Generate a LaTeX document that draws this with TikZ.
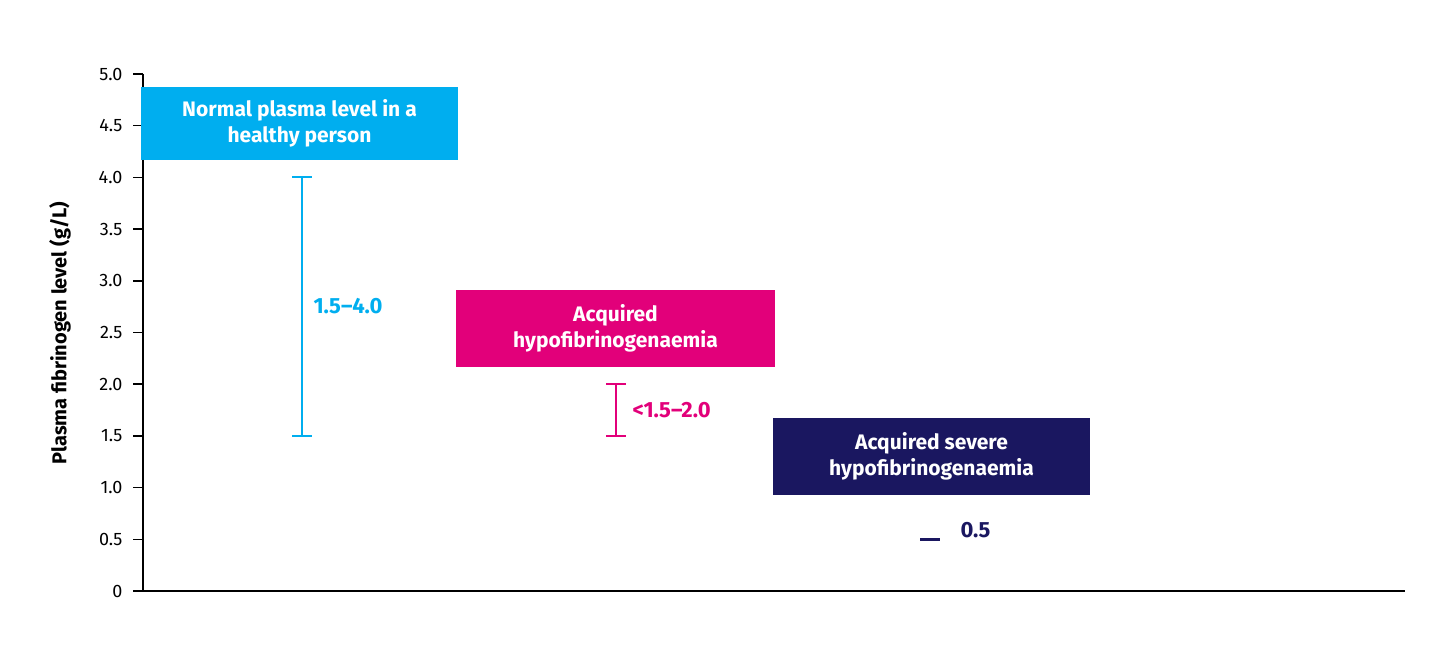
\documentclass[tikz,border=0pt]{standalone}
\usepackage{fontspec}
\setmainfont{Fira Sans}
\begin{document}
\begin{tikzpicture}[x=1pt,y=-1pt,
  box/.style={text=white,align=center,font=\fontsize{21}{26}\selectfont\bfseries,inner sep=0},
  tick/.style={anchor=east,font=\fontsize{18}{20}\selectfont},
  lab/.style={anchor=west,font=\fontsize{22}{24}\selectfont\bfseries}]
\definecolor{cy}{HTML}{00AEEF}
\definecolor{mg}{HTML}{E2007A}
\definecolor{nv}{HTML}{1A1760}
\useasboundingbox (0,0) rectangle (1450,666);
\coordinate (o) at (143,591);
\coordinate (top) at (143,74);
\coordinate (xe) at (1405,591);
\draw[line width=1.5pt] (top) -- (o) -- (xe);
\foreach \v [count=\i from 0] in {0,0.5,1.0,1.5,2.0,2.5,3.0,3.5,4.0,4.5,5.0}{
  \draw[line width=1.5pt] (133,591-51.7*\i) -- (143,591-51.7*\i);
  \node[tick] at (126,591-51.7*\i) {\v};
}
\node[rotate=90,font=\fontsize{20}{22}\selectfont\bfseries] (ylab) at (60,333) {Plasma fibrinogen level (g/L)};
\fill[cy] (141,87) rectangle (458,160);
\node[box] (b1) at (299.5,123.5) {Normal plasma level in a\\healthy person};
\fill[mg] (456,290) rectangle (775,367);
\node[box] (b2) at (615.5,328) {Acquired\\hypofibrinogenaemia};
\fill[nv] (773,418) rectangle (1090,495);
\node[box] (b3) at (931.5,456) {Acquired severe\\hypofibrinogenaemia};
\draw[cy,line width=2pt] (292,177) -- (312,177) (302,177) -- (302,436) (292,436) -- (312,436);
\node[lab,text=cy] (l1) at (310,306) {1.5–4.0};
\draw[mg,line width=2pt] (606,384) -- (626,384) (616,384) -- (616,436) (606,436) -- (626,436);
\node[lab,text=mg] (l2) at (629,410) {<1.5–2.0};
\draw[nv,line width=3pt] (920,539) -- (940,539);
\node[lab,text=nv] (l3) at (957,530) {0.5};
\end{tikzpicture}
\end{document}
